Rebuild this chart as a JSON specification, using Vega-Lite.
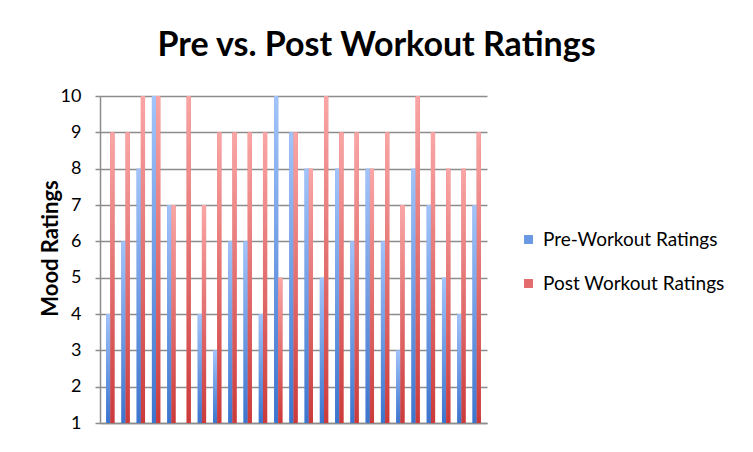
{
  "$schema": "https://vega.github.io/schema/vega-lite/v6.json",
  "autosize": {"type": "none"},
  "width": 387,
  "height": 327,
  "padding": {"left": 100, "top": 96, "right": 266, "bottom": 29},
  "background": "white",
  "title": {
    "text": "Pre vs. Post Workout Ratings",
    "font": "Lato",
    "fontSize": 34,
    "fontWeight": "bold",
    "color": "black",
    "anchor": "middle",
    "frame": "group",
    "dx": 83,
    "baseline": "alphabetic",
    "offset": -3
  },
  "data": {
    "values": [
      {"p": 1, "series": "Pre-Workout Ratings", "rating": 4}, {"p": 1, "series": "Post Workout Ratings", "rating": 9},
      {"p": 2, "series": "Pre-Workout Ratings", "rating": 6}, {"p": 2, "series": "Post Workout Ratings", "rating": 9},
      {"p": 3, "series": "Pre-Workout Ratings", "rating": 8}, {"p": 3, "series": "Post Workout Ratings", "rating": 10},
      {"p": 4, "series": "Pre-Workout Ratings", "rating": 10}, {"p": 4, "series": "Post Workout Ratings", "rating": 10},
      {"p": 5, "series": "Pre-Workout Ratings", "rating": 7}, {"p": 5, "series": "Post Workout Ratings", "rating": 7},
      {"p": 6, "series": "Pre-Workout Ratings", "rating": 1}, {"p": 6, "series": "Post Workout Ratings", "rating": 10},
      {"p": 7, "series": "Pre-Workout Ratings", "rating": 4}, {"p": 7, "series": "Post Workout Ratings", "rating": 7},
      {"p": 8, "series": "Pre-Workout Ratings", "rating": 3}, {"p": 8, "series": "Post Workout Ratings", "rating": 9},
      {"p": 9, "series": "Pre-Workout Ratings", "rating": 6}, {"p": 9, "series": "Post Workout Ratings", "rating": 9},
      {"p": 10, "series": "Pre-Workout Ratings", "rating": 6}, {"p": 10, "series": "Post Workout Ratings", "rating": 9},
      {"p": 11, "series": "Pre-Workout Ratings", "rating": 4}, {"p": 11, "series": "Post Workout Ratings", "rating": 9},
      {"p": 12, "series": "Pre-Workout Ratings", "rating": 10}, {"p": 12, "series": "Post Workout Ratings", "rating": 5},
      {"p": 13, "series": "Pre-Workout Ratings", "rating": 9}, {"p": 13, "series": "Post Workout Ratings", "rating": 9},
      {"p": 14, "series": "Pre-Workout Ratings", "rating": 8}, {"p": 14, "series": "Post Workout Ratings", "rating": 8},
      {"p": 15, "series": "Pre-Workout Ratings", "rating": 5}, {"p": 15, "series": "Post Workout Ratings", "rating": 10},
      {"p": 16, "series": "Pre-Workout Ratings", "rating": 8}, {"p": 16, "series": "Post Workout Ratings", "rating": 9},
      {"p": 17, "series": "Pre-Workout Ratings", "rating": 6}, {"p": 17, "series": "Post Workout Ratings", "rating": 9},
      {"p": 18, "series": "Pre-Workout Ratings", "rating": 8}, {"p": 18, "series": "Post Workout Ratings", "rating": 8},
      {"p": 19, "series": "Pre-Workout Ratings", "rating": 6}, {"p": 19, "series": "Post Workout Ratings", "rating": 9},
      {"p": 20, "series": "Pre-Workout Ratings", "rating": 3}, {"p": 20, "series": "Post Workout Ratings", "rating": 7},
      {"p": 21, "series": "Pre-Workout Ratings", "rating": 8}, {"p": 21, "series": "Post Workout Ratings", "rating": 10},
      {"p": 22, "series": "Pre-Workout Ratings", "rating": 7}, {"p": 22, "series": "Post Workout Ratings", "rating": 9},
      {"p": 23, "series": "Pre-Workout Ratings", "rating": 5}, {"p": 23, "series": "Post Workout Ratings", "rating": 8},
      {"p": 24, "series": "Pre-Workout Ratings", "rating": 4}, {"p": 24, "series": "Post Workout Ratings", "rating": 8},
      {"p": 25, "series": "Pre-Workout Ratings", "rating": 7}, {"p": 25, "series": "Post Workout Ratings", "rating": 9}
    ]
  },
  "encoding": {
    "x": {
      "field": "p",
      "type": "ordinal",
      "scale": {"paddingInner": 0.45, "paddingOuter": 0.4},
      "axis": {
        "title": null,
        "labels": false,
        "ticks": false,
        "grid": false,
        "domainColor": "#8c8c8c",
        "domainWidth": 1.5
      }
    },
    "xOffset": {
      "field": "series",
      "type": "nominal",
      "sort": ["Pre-Workout Ratings", "Post Workout Ratings"],
      "scale": {"paddingInner": 0, "paddingOuter": 0}
    },
    "y": {
      "field": "rating",
      "type": "quantitative",
      "scale": {"domain": [1, 10], "zero": false, "nice": false},
      "axis": {
        "title": "Mood Ratings",
        "titleFont": "Lato",
        "titleFontSize": 22,
        "titleFontWeight": "bold",
        "titleColor": "black",
        "titleX": -50,
        "titleY": 152,
        "titleAngle": -90,
        "titleAlign": "center",
        "titleBaseline": "middle",
        "values": [1, 2, 3, 4, 5, 6, 7, 8, 9, 10],
        "labelFont": "Lato",
        "labelFontSize": 18,
        "labelColor": "black",
        "labelPadding": 14,
        "tickSize": 5,
        "tickColor": "#8c8c8c",
        "tickWidth": 1.5,
        "domainColor": "#8c8c8c",
        "domainWidth": 1.5,
        "gridColor": "#8c8c8c",
        "gridWidth": 1.5
      }
    },
    "y2": {"datum": 1}
  },
  "layer": [
    {
      "mark": {"type": "bar"},
      "encoding": {
        "color": {
          "field": "series",
          "type": "nominal",
          "sort": ["Pre-Workout Ratings", "Post Workout Ratings"],
          "scale": {"range": ["#6A98E2", "#E36B6B"]},
          "legend": {
            "title": null,
            "orient": "none",
            "legendX": 419,
            "legendY": 134,
            "padding": 0,
            "symbolType": "square",
            "symbolSize": 80,
            "symbolStrokeWidth": 0,
            "labelFont": "Lato",
            "labelFontSize": 19,
            "labelLimit": 400,
            "labelColor": "black",
            "labelOffset": 5,
            "rowPadding": 24
          }
        }
      }
    },
    {
      "transform": [{"filter": "datum.series === 'Pre-Workout Ratings'"}],
      "mark": {
        "type": "bar",
        "color": {
          "gradient": "linear", "x1": 0, "y1": 0, "x2": 0, "y2": 1,
          "stops": [{"offset": 0, "color": "#A3C4FA"}, {"offset": 1, "color": "#3C75CE"}]
        }
      }
    },
    {
      "transform": [{"filter": "datum.series === 'Post Workout Ratings'"}],
      "mark": {
        "type": "bar",
        "color": {
          "gradient": "linear", "x1": 0, "y1": 0, "x2": 0, "y2": 1,
          "stops": [{"offset": 0, "color": "#FAA6A6"}, {"offset": 1, "color": "#CC3A3A"}]
        }
      }
    }
  ],
  "config": {
    "view": {"stroke": null}
  }
}
